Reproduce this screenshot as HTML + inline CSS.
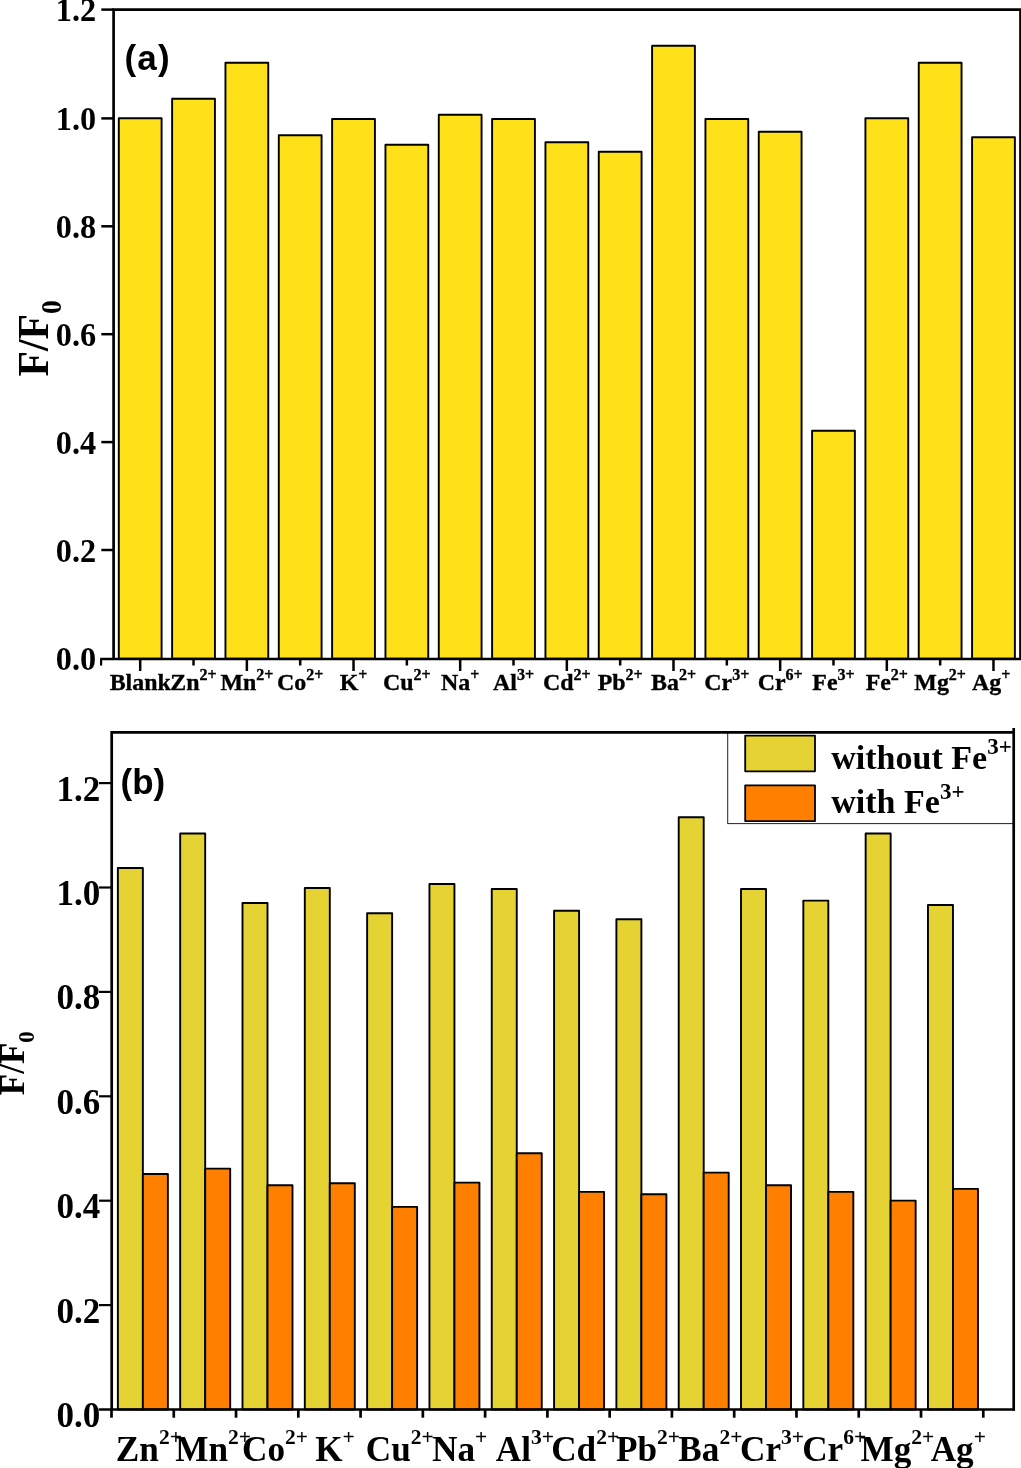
<!DOCTYPE html>
<html><head><meta charset="utf-8"><title>Fluorescence response</title>
<style>
html,body{margin:0;padding:0;background:#fff;}
svg{display:block;}
text{fill:#000;}
</style></head><body>
<svg width="1021" height="1468" viewBox="0 0 1021 1468">
<rect width="1021" height="1468" fill="#fff"/>
<g id="pa">
<rect x="118.80" y="118.30" width="42.80" height="540.30" fill="#FFE119" stroke="#000" stroke-width="1.9" stroke-linejoin="round"/>
<rect x="172.13" y="98.70" width="42.80" height="559.90" fill="#FFE119" stroke="#000" stroke-width="1.9" stroke-linejoin="round"/>
<rect x="225.46" y="62.70" width="42.80" height="595.90" fill="#FFE119" stroke="#000" stroke-width="1.9" stroke-linejoin="round"/>
<rect x="278.79" y="135.30" width="42.80" height="523.30" fill="#FFE119" stroke="#000" stroke-width="1.9" stroke-linejoin="round"/>
<rect x="332.12" y="119.00" width="42.80" height="539.60" fill="#FFE119" stroke="#000" stroke-width="1.9" stroke-linejoin="round"/>
<rect x="385.45" y="144.70" width="42.80" height="513.90" fill="#FFE119" stroke="#000" stroke-width="1.9" stroke-linejoin="round"/>
<rect x="438.78" y="114.70" width="42.80" height="543.90" fill="#FFE119" stroke="#000" stroke-width="1.9" stroke-linejoin="round"/>
<rect x="492.11" y="119.00" width="42.80" height="539.60" fill="#FFE119" stroke="#000" stroke-width="1.9" stroke-linejoin="round"/>
<rect x="545.44" y="142.30" width="42.80" height="516.30" fill="#FFE119" stroke="#000" stroke-width="1.9" stroke-linejoin="round"/>
<rect x="598.77" y="151.70" width="42.80" height="506.90" fill="#FFE119" stroke="#000" stroke-width="1.9" stroke-linejoin="round"/>
<rect x="652.10" y="45.70" width="42.80" height="612.90" fill="#FFE119" stroke="#000" stroke-width="1.9" stroke-linejoin="round"/>
<rect x="705.43" y="119.00" width="42.80" height="539.60" fill="#FFE119" stroke="#000" stroke-width="1.9" stroke-linejoin="round"/>
<rect x="758.76" y="131.70" width="42.80" height="526.90" fill="#FFE119" stroke="#000" stroke-width="1.9" stroke-linejoin="round"/>
<rect x="812.09" y="430.80" width="42.80" height="227.80" fill="#FFE119" stroke="#000" stroke-width="1.9" stroke-linejoin="round"/>
<rect x="865.42" y="118.20" width="42.80" height="540.40" fill="#FFE119" stroke="#000" stroke-width="1.9" stroke-linejoin="round"/>
<rect x="918.75" y="62.70" width="42.80" height="595.90" fill="#FFE119" stroke="#000" stroke-width="1.9" stroke-linejoin="round"/>
<rect x="972.08" y="137.20" width="42.80" height="521.40" fill="#FFE119" stroke="#000" stroke-width="1.9" stroke-linejoin="round"/>
<path d="M113.6 658.6 V9.6 H1020.5 V658.6" fill="none" stroke="#000" stroke-width="2.7" stroke-linejoin="miter"/>
<path d="M100.1 659.0 H1021.9" fill="none" stroke="#000" stroke-width="2.7"/>
<path d="M101.1 659.0 V665.6" fill="none" stroke="#000" stroke-width="2.2"/>
<text transform="translate(96.20,669.50) scale(0.953,1)" text-anchor="end" font-size="33.9" font-family="Liberation Serif, serif" font-weight="bold">0.0</text>
<path d="M101.3 550.00 H113.6" stroke="#000" stroke-width="2.5"/>
<text transform="translate(96.20,561.60) scale(0.953,1)" text-anchor="end" font-size="33.9" font-family="Liberation Serif, serif" font-weight="bold">0.2</text>
<path d="M101.3 442.10 H113.6" stroke="#000" stroke-width="2.5"/>
<text transform="translate(96.20,453.70) scale(0.953,1)" text-anchor="end" font-size="33.9" font-family="Liberation Serif, serif" font-weight="bold">0.4</text>
<path d="M101.3 334.20 H113.6" stroke="#000" stroke-width="2.5"/>
<text transform="translate(96.20,345.80) scale(0.953,1)" text-anchor="end" font-size="33.9" font-family="Liberation Serif, serif" font-weight="bold">0.6</text>
<path d="M101.3 226.30 H113.6" stroke="#000" stroke-width="2.5"/>
<text transform="translate(96.20,237.90) scale(0.953,1)" text-anchor="end" font-size="33.9" font-family="Liberation Serif, serif" font-weight="bold">0.8</text>
<path d="M101.3 118.40 H113.6" stroke="#000" stroke-width="2.5"/>
<text transform="translate(96.20,130.00) scale(0.953,1)" text-anchor="end" font-size="33.9" font-family="Liberation Serif, serif" font-weight="bold">1.0</text>
<path d="M101.3 9.60 H113.6" stroke="#000" stroke-width="2.5"/>
<text transform="translate(96.20,21.20) scale(0.953,1)" text-anchor="end" font-size="33.9" font-family="Liberation Serif, serif" font-weight="bold">1.2</text>
<path d="M140.20 658.6 V671.0" stroke="#000" stroke-width="2.5"/>
<text x="140.20" y="689.70" text-anchor="middle" font-size="23.9" font-family="Liberation Serif, serif" font-weight="bold" stroke="#000" stroke-width="0.35">Blank</text>
<path d="M193.53 658.6 V665.5" stroke="#000" stroke-width="2.5"/>
<text x="193.53" y="689.70" text-anchor="middle" font-size="23.9" font-family="Liberation Serif, serif" font-weight="bold" stroke="#000" stroke-width="0.35">Zn<tspan font-size="16" dy="-9.9">2+</tspan></text>
<path d="M246.86 658.6 V671.0" stroke="#000" stroke-width="2.5"/>
<text x="246.86" y="689.70" text-anchor="middle" font-size="23.9" font-family="Liberation Serif, serif" font-weight="bold" stroke="#000" stroke-width="0.35">Mn<tspan font-size="16" dy="-9.9">2+</tspan></text>
<path d="M300.19 658.6 V665.5" stroke="#000" stroke-width="2.5"/>
<text x="300.19" y="689.70" text-anchor="middle" font-size="23.9" font-family="Liberation Serif, serif" font-weight="bold" stroke="#000" stroke-width="0.35">Co<tspan font-size="16" dy="-9.9">2+</tspan></text>
<path d="M353.52 658.6 V671.0" stroke="#000" stroke-width="2.5"/>
<text x="353.52" y="689.70" text-anchor="middle" font-size="23.9" font-family="Liberation Serif, serif" font-weight="bold" stroke="#000" stroke-width="0.35">K<tspan font-size="16" dy="-9.9">+</tspan></text>
<path d="M406.85 658.6 V665.5" stroke="#000" stroke-width="2.5"/>
<text x="406.85" y="689.70" text-anchor="middle" font-size="23.9" font-family="Liberation Serif, serif" font-weight="bold" stroke="#000" stroke-width="0.35">Cu<tspan font-size="16" dy="-9.9">2+</tspan></text>
<path d="M460.18 658.6 V671.0" stroke="#000" stroke-width="2.5"/>
<text x="460.18" y="689.70" text-anchor="middle" font-size="23.9" font-family="Liberation Serif, serif" font-weight="bold" stroke="#000" stroke-width="0.35">Na<tspan font-size="16" dy="-9.9">+</tspan></text>
<path d="M513.51 658.6 V665.5" stroke="#000" stroke-width="2.5"/>
<text x="513.51" y="689.70" text-anchor="middle" font-size="23.9" font-family="Liberation Serif, serif" font-weight="bold" stroke="#000" stroke-width="0.35">Al<tspan font-size="16" dy="-9.9">3+</tspan></text>
<path d="M566.84 658.6 V671.0" stroke="#000" stroke-width="2.5"/>
<text x="566.84" y="689.70" text-anchor="middle" font-size="23.9" font-family="Liberation Serif, serif" font-weight="bold" stroke="#000" stroke-width="0.35">Cd<tspan font-size="16" dy="-9.9">2+</tspan></text>
<path d="M620.17 658.6 V665.5" stroke="#000" stroke-width="2.5"/>
<text x="620.17" y="689.70" text-anchor="middle" font-size="23.9" font-family="Liberation Serif, serif" font-weight="bold" stroke="#000" stroke-width="0.35">Pb<tspan font-size="16" dy="-9.9">2+</tspan></text>
<path d="M673.50 658.6 V671.0" stroke="#000" stroke-width="2.5"/>
<text x="673.50" y="689.70" text-anchor="middle" font-size="23.9" font-family="Liberation Serif, serif" font-weight="bold" stroke="#000" stroke-width="0.35">Ba<tspan font-size="16" dy="-9.9">2+</tspan></text>
<path d="M726.83 658.6 V665.5" stroke="#000" stroke-width="2.5"/>
<text x="726.83" y="689.70" text-anchor="middle" font-size="23.9" font-family="Liberation Serif, serif" font-weight="bold" stroke="#000" stroke-width="0.35">Cr<tspan font-size="16" dy="-9.9">3+</tspan></text>
<path d="M780.16 658.6 V671.0" stroke="#000" stroke-width="2.5"/>
<text x="780.16" y="689.70" text-anchor="middle" font-size="23.9" font-family="Liberation Serif, serif" font-weight="bold" stroke="#000" stroke-width="0.35">Cr<tspan font-size="16" dy="-9.9">6+</tspan></text>
<path d="M833.49 658.6 V665.5" stroke="#000" stroke-width="2.5"/>
<text x="833.49" y="689.70" text-anchor="middle" font-size="23.9" font-family="Liberation Serif, serif" font-weight="bold" stroke="#000" stroke-width="0.35">Fe<tspan font-size="16" dy="-9.9">3+</tspan></text>
<path d="M886.82 658.6 V671.0" stroke="#000" stroke-width="2.5"/>
<text x="886.82" y="689.70" text-anchor="middle" font-size="23.9" font-family="Liberation Serif, serif" font-weight="bold" stroke="#000" stroke-width="0.35">Fe<tspan font-size="16" dy="-9.9">2+</tspan></text>
<path d="M940.15 658.6 V665.5" stroke="#000" stroke-width="2.5"/>
<text x="940.15" y="689.70" text-anchor="middle" font-size="23.9" font-family="Liberation Serif, serif" font-weight="bold" stroke="#000" stroke-width="0.35">Mg<tspan font-size="16" dy="-9.9">2+</tspan></text>
<path d="M993.48 658.6 V671.0" stroke="#000" stroke-width="2.5"/>
<text x="991.18" y="689.70" text-anchor="middle" font-size="23.9" font-family="Liberation Serif, serif" font-weight="bold" stroke="#000" stroke-width="0.35">Ag<tspan font-size="16" dy="-9.9">+</tspan></text>
<text x="124.40" y="69.60" font-size="35" font-family="Liberation Sans, sans-serif" font-weight="bold">(<tspan dx="1.3">a</tspan><tspan dx="1.2">)</tspan></text>
<text transform="translate(48.00,376.40) rotate(-90) scale(0.955,1)" font-size="43.6" font-family="Liberation Serif, serif" font-weight="bold">F/F<tspan font-size="29" dy="13.2">0</tspan></text>
</g>
<g id="pb">
<rect x="117.87" y="868.00" width="25.00" height="541.50" fill="#E5D333" stroke="#000" stroke-width="1.9" stroke-linejoin="round"/>
<rect x="142.87" y="1174.00" width="25.00" height="235.50" fill="#FF8000" stroke="#000" stroke-width="1.9" stroke-linejoin="round"/>
<rect x="180.19" y="833.50" width="25.00" height="576.00" fill="#E5D333" stroke="#000" stroke-width="1.9" stroke-linejoin="round"/>
<rect x="205.19" y="1168.60" width="25.00" height="240.90" fill="#FF8000" stroke="#000" stroke-width="1.9" stroke-linejoin="round"/>
<rect x="242.50" y="903.00" width="25.00" height="506.50" fill="#E5D333" stroke="#000" stroke-width="1.9" stroke-linejoin="round"/>
<rect x="267.50" y="1185.30" width="25.00" height="224.20" fill="#FF8000" stroke="#000" stroke-width="1.9" stroke-linejoin="round"/>
<rect x="304.81" y="888.00" width="25.00" height="521.50" fill="#E5D333" stroke="#000" stroke-width="1.9" stroke-linejoin="round"/>
<rect x="329.81" y="1183.30" width="25.00" height="226.20" fill="#FF8000" stroke="#000" stroke-width="1.9" stroke-linejoin="round"/>
<rect x="367.13" y="913.30" width="25.00" height="496.20" fill="#E5D333" stroke="#000" stroke-width="1.9" stroke-linejoin="round"/>
<rect x="392.13" y="1206.90" width="25.00" height="202.60" fill="#FF8000" stroke="#000" stroke-width="1.9" stroke-linejoin="round"/>
<rect x="429.44" y="884.00" width="25.00" height="525.50" fill="#E5D333" stroke="#000" stroke-width="1.9" stroke-linejoin="round"/>
<rect x="454.44" y="1182.60" width="25.00" height="226.90" fill="#FF8000" stroke="#000" stroke-width="1.9" stroke-linejoin="round"/>
<rect x="491.76" y="889.00" width="25.00" height="520.50" fill="#E5D333" stroke="#000" stroke-width="1.9" stroke-linejoin="round"/>
<rect x="516.76" y="1153.30" width="25.00" height="256.20" fill="#FF8000" stroke="#000" stroke-width="1.9" stroke-linejoin="round"/>
<rect x="554.08" y="910.70" width="25.00" height="498.80" fill="#E5D333" stroke="#000" stroke-width="1.9" stroke-linejoin="round"/>
<rect x="579.08" y="1191.90" width="25.00" height="217.60" fill="#FF8000" stroke="#000" stroke-width="1.9" stroke-linejoin="round"/>
<rect x="616.39" y="919.30" width="25.00" height="490.20" fill="#E5D333" stroke="#000" stroke-width="1.9" stroke-linejoin="round"/>
<rect x="641.39" y="1194.30" width="25.00" height="215.20" fill="#FF8000" stroke="#000" stroke-width="1.9" stroke-linejoin="round"/>
<rect x="678.71" y="817.30" width="25.00" height="592.20" fill="#E5D333" stroke="#000" stroke-width="1.9" stroke-linejoin="round"/>
<rect x="703.71" y="1172.60" width="25.00" height="236.90" fill="#FF8000" stroke="#000" stroke-width="1.9" stroke-linejoin="round"/>
<rect x="741.02" y="889.00" width="25.00" height="520.50" fill="#E5D333" stroke="#000" stroke-width="1.9" stroke-linejoin="round"/>
<rect x="766.02" y="1185.30" width="25.00" height="224.20" fill="#FF8000" stroke="#000" stroke-width="1.9" stroke-linejoin="round"/>
<rect x="803.33" y="900.60" width="25.00" height="508.90" fill="#E5D333" stroke="#000" stroke-width="1.9" stroke-linejoin="round"/>
<rect x="828.33" y="1191.90" width="25.00" height="217.60" fill="#FF8000" stroke="#000" stroke-width="1.9" stroke-linejoin="round"/>
<rect x="865.65" y="833.50" width="25.00" height="576.00" fill="#E5D333" stroke="#000" stroke-width="1.9" stroke-linejoin="round"/>
<rect x="890.65" y="1200.60" width="25.00" height="208.90" fill="#FF8000" stroke="#000" stroke-width="1.9" stroke-linejoin="round"/>
<rect x="927.97" y="905.00" width="25.00" height="504.50" fill="#E5D333" stroke="#000" stroke-width="1.9" stroke-linejoin="round"/>
<rect x="952.97" y="1188.90" width="25.00" height="220.60" fill="#FF8000" stroke="#000" stroke-width="1.9" stroke-linejoin="round"/>
<rect x="727.7" y="732.4" width="286.00" height="91.20" fill="#fff" stroke="#222" stroke-width="1"/>
<rect x="745.2" y="735.7" width="69.8" height="35.6" fill="#E5D333" stroke="#000" stroke-width="1.8" stroke-linejoin="round"/>
<rect x="745.2" y="785.3" width="69.8" height="35.8" fill="#FF8000" stroke="#000" stroke-width="1.8" stroke-linejoin="round"/>
<text x="831.30" y="768.70" font-size="34" font-family="Liberation Serif, serif" font-weight="bold">without Fe<tspan font-size="23" dy="-14.6">3+</tspan></text>
<text x="831.30" y="813.20" font-size="34" font-family="Liberation Serif, serif" font-weight="bold">with Fe<tspan font-size="23" dy="-14.6">3+</tspan></text>
<path d="M111.7 1409.5 V732.4 H1013.7" fill="none" stroke="#000" stroke-width="2.7" stroke-linejoin="miter"/>
<path d="M1013.7 1410.8 V727.9" fill="none" stroke="#000" stroke-width="2.7"/>
<path d="M98.7 1409.5 H1015.0" fill="none" stroke="#000" stroke-width="2.7"/>
<text x="100.20" y="1426.90" text-anchor="end" font-size="35" font-family="Liberation Serif, serif" font-weight="bold">0.0</text>
<path d="M99.0 1305.10 H111.7" stroke="#000" stroke-width="2.2"/>
<text x="100.20" y="1322.50" text-anchor="end" font-size="35" font-family="Liberation Serif, serif" font-weight="bold">0.2</text>
<path d="M99.0 1200.70 H111.7" stroke="#000" stroke-width="2.2"/>
<text x="100.20" y="1218.10" text-anchor="end" font-size="35" font-family="Liberation Serif, serif" font-weight="bold">0.4</text>
<path d="M99.0 1096.30 H111.7" stroke="#000" stroke-width="2.2"/>
<text x="100.20" y="1113.70" text-anchor="end" font-size="35" font-family="Liberation Serif, serif" font-weight="bold">0.6</text>
<path d="M99.0 991.90 H111.7" stroke="#000" stroke-width="2.2"/>
<text x="100.20" y="1009.30" text-anchor="end" font-size="35" font-family="Liberation Serif, serif" font-weight="bold">0.8</text>
<path d="M99.0 887.50 H111.7" stroke="#000" stroke-width="2.2"/>
<text x="100.20" y="904.90" text-anchor="end" font-size="35" font-family="Liberation Serif, serif" font-weight="bold">1.0</text>
<path d="M99.0 783.10 H111.7" stroke="#000" stroke-width="2.2"/>
<text x="100.20" y="800.50" text-anchor="end" font-size="35" font-family="Liberation Serif, serif" font-weight="bold">1.2</text>
<path d="M111.50 1409.5 V1417.7" stroke="#000" stroke-width="2.7"/>
<path d="M173.77 1409.5 V1417.7" stroke="#000" stroke-width="2.7"/>
<path d="M236.04 1409.5 V1417.7" stroke="#000" stroke-width="2.7"/>
<path d="M298.31 1409.5 V1417.7" stroke="#000" stroke-width="2.7"/>
<path d="M360.58 1409.5 V1417.7" stroke="#000" stroke-width="2.7"/>
<path d="M422.85 1409.5 V1417.7" stroke="#000" stroke-width="2.7"/>
<path d="M485.12 1409.5 V1417.7" stroke="#000" stroke-width="2.7"/>
<path d="M547.39 1409.5 V1417.7" stroke="#000" stroke-width="2.7"/>
<path d="M609.66 1409.5 V1417.7" stroke="#000" stroke-width="2.7"/>
<path d="M671.93 1409.5 V1417.7" stroke="#000" stroke-width="2.7"/>
<path d="M734.20 1409.5 V1417.7" stroke="#000" stroke-width="2.7"/>
<path d="M796.47 1409.5 V1417.7" stroke="#000" stroke-width="2.7"/>
<path d="M858.74 1409.5 V1417.7" stroke="#000" stroke-width="2.7"/>
<path d="M921.01 1409.5 V1417.7" stroke="#000" stroke-width="2.7"/>
<path d="M983.28 1409.5 V1417.7" stroke="#000" stroke-width="2.7"/>
<text x="148.90" y="1460.60" text-anchor="middle" font-size="35.2" font-family="Liberation Serif, serif" font-weight="bold">Zn<tspan font-size="21.5" dy="-16.4">2+</tspan></text>
<text x="213.10" y="1460.60" text-anchor="middle" font-size="35.2" font-family="Liberation Serif, serif" font-weight="bold">Mn<tspan font-size="21.5" dy="-16.4">2+</tspan></text>
<text x="275.10" y="1460.60" text-anchor="middle" font-size="35.2" font-family="Liberation Serif, serif" font-weight="bold">Co<tspan font-size="21.5" dy="-16.4">2+</tspan></text>
<text x="335.00" y="1460.60" text-anchor="middle" font-size="35.2" font-family="Liberation Serif, serif" font-weight="bold">K<tspan font-size="21.5" dy="-16.4">+</tspan></text>
<text x="399.80" y="1460.60" text-anchor="middle" font-size="35.2" font-family="Liberation Serif, serif" font-weight="bold">Cu<tspan font-size="21.5" dy="-16.4">2+</tspan></text>
<text x="459.70" y="1460.60" text-anchor="middle" font-size="35.2" font-family="Liberation Serif, serif" font-weight="bold">Na<tspan font-size="21.5" dy="-16.4">+</tspan></text>
<text x="524.90" y="1460.60" text-anchor="middle" font-size="35.2" font-family="Liberation Serif, serif" font-weight="bold">Al<tspan font-size="21.5" dy="-16.4">3+</tspan></text>
<text x="585.20" y="1460.60" text-anchor="middle" font-size="35.2" font-family="Liberation Serif, serif" font-weight="bold">Cd<tspan font-size="21.5" dy="-16.4">2+</tspan></text>
<text x="648.00" y="1460.60" text-anchor="middle" font-size="35.2" font-family="Liberation Serif, serif" font-weight="bold">Pb<tspan font-size="21.5" dy="-16.4">2+</tspan></text>
<text x="710.40" y="1460.60" text-anchor="middle" font-size="35.2" font-family="Liberation Serif, serif" font-weight="bold">Ba<tspan font-size="21.5" dy="-16.4">2+</tspan></text>
<text x="772.00" y="1460.60" text-anchor="middle" font-size="35.2" font-family="Liberation Serif, serif" font-weight="bold">Cr<tspan font-size="21.5" dy="-16.4">3+</tspan></text>
<text x="834.20" y="1460.60" text-anchor="middle" font-size="35.2" font-family="Liberation Serif, serif" font-weight="bold">Cr<tspan font-size="21.5" dy="-16.4">6+</tspan></text>
<text x="897.40" y="1460.60" text-anchor="middle" font-size="35.2" font-family="Liberation Serif, serif" font-weight="bold">Mg<tspan font-size="21.5" dy="-16.4">2+</tspan></text>
<text x="958.30" y="1460.60" text-anchor="middle" font-size="35.2" font-family="Liberation Serif, serif" font-weight="bold">Ag<tspan font-size="21.5" dy="-16.4">+</tspan></text>
<text x="120.50" y="794.00" font-size="35" font-family="Liberation Sans, sans-serif" font-weight="bold">(b)</text>
<text transform="translate(24.00,1095.20) rotate(-90)" font-size="35" font-family="Liberation Serif, serif" font-weight="bold">F/F<tspan font-size="23" dy="10">0</tspan></text>
</g>
</svg>
</body></html>
